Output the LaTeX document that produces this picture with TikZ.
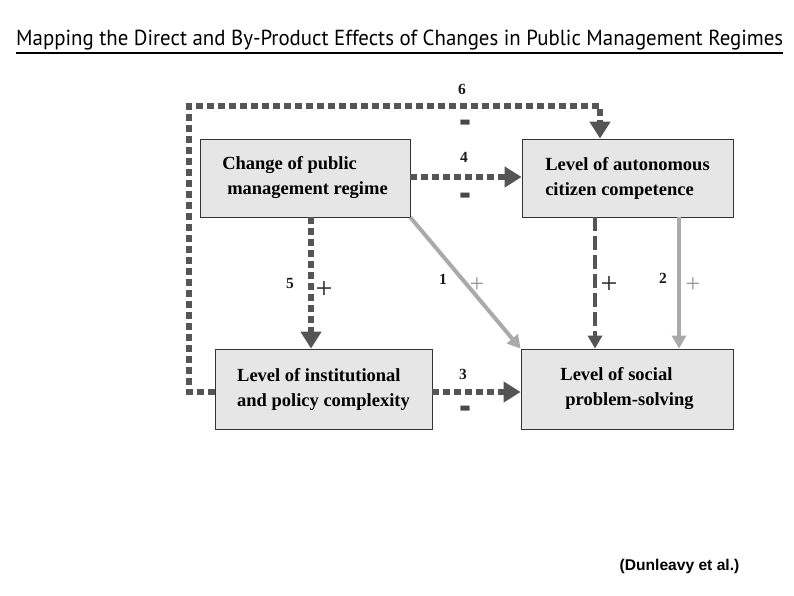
\documentclass[tikz,border=0pt]{standalone}
\usepackage{fontspec}
\usepackage{graphicx}
\setmainfont{Liberation Serif}
\newfontfamily\titlefont{PT Sans}
\newfontfamily\arialfont{Liberation Sans}
\usetikzlibrary{arrows.meta,calc}
\definecolor{dk}{HTML}{555555}
\definecolor{lg}{HTML}{AAAAAA}
\definecolor{boxfill}{HTML}{E6E6E6}
\definecolor{boxline}{HTML}{333333}
\begin{document}
\begin{tikzpicture}[x=1pt,y=-1pt,
  box/.style={draw=boxline,line width=0.8pt,fill=boxfill,align=left,inner sep=0pt,
    font=\fontsize{18.5}{25}\selectfont\bfseries},
  dotarrow/.style={draw=dk,line width=6pt,dash pattern=on 7pt off 4pt,
    -{Triangle[length=17pt,width=20pt]}},
  dasharrow/.style={draw=dk,line width=4pt,dash pattern=on 14pt off 5pt,
    -{Triangle[length=13pt,width=14pt]}},
  grayarrow/.style={draw=lg,line width=4pt,-{Triangle[length=13pt,width=14pt]}},
  num/.style={font=\fontsize{15.5}{15.5}\selectfont\bfseries,inner sep=0pt,text=black!90},
  minus/.style={font=\arialfont\fontsize{15}{15}\selectfont\bfseries,inner sep=0pt,text=dk!85!black},
  plusdk/.style={font=\fontsize{30}{30}\selectfont,inner sep=0pt,text=black!85},
  pluslg/.style={font=\fontsize{26}{26}\selectfont,inner sep=0pt,text=lg!90!black}]
\useasboundingbox (0,0) rectangle (794,595);

% title and rule
\node[anchor=base west,inner sep=0pt] (title) at (16,45)
  {\resizebox{767pt}{15.5pt}{\titlefont Mapping the Direct and By-Product Effects of Changes in Public Management Regimes}};
\coordinate (r1) at (16,53);
\coordinate (r2) at (783,53);
\draw[line width=2.2pt] (r1) -- (r2);

% boxes
\node[box,minimum width=210pt,minimum height=78pt] (A) at (305,178)
  {Change of public\\\hspace*{5pt}management regime};
\node[box,minimum width=211pt,minimum height=78pt] (B) at (627.5,178)
  {Level of autonomous\\citizen competence};
\node[box,minimum width=217pt,minimum height=80pt] (C) at (323.5,389)
  {Level of institutional\\and policy complexity};
\node[box,minimum width=212pt,minimum height=80pt] (D) at (627,389)
  {Level of social\\\hspace*{5pt}problem-solving};

% connector 6
\coordinate (c6s) at ($(C.west)+(0,3)$);
\coordinate (c6a) at (189,392);
\coordinate (c6b) at (189,106);
\coordinate (c6c) at (600,106);
\draw[dotarrow] (c6s) -- (c6a) -- (c6b) -- (c6c) -- (c6c |- B.north);

% connector 4
\draw[dotarrow] ($(A.east)+(0,-1)$) -- ($(B.west)+(0,-1)$);

% connector 3
\draw[dotarrow] ($(C.east)+(0,3)$) -- ($(D.west)+(0,3)$);

% connector 5
\coordinate (c5) at ($(A.south)+(6,0)$);
\draw[dotarrow] (c5) -- (c5 |- C.north);

% connector 1
\draw[grayarrow] (A.south east) -- (D.north west);

% dashed connector
\coordinate (cd) at ($(B.south)+(-32.5,0)$);
\draw[dasharrow] (cd) -- (cd |- D.north);

% connector 2
\coordinate (c2) at ($(B.south)+(51.5,0)$);
\draw[grayarrow] (c2) -- (c2 |- D.north);

% labels
\node[num] (l6) at (462,89) {6};
\node[minus] (m6) at (465,127) {\scalebox{2.4}[2.8]{-}};
\node[num] (l4) at (464,157) {4};
\node[minus] (m4) at (465,200) {\scalebox{2.4}[2.8]{-}};
\node[num] (l5) at (290,283) {5};
\node[plusdk] (p5) at (324,290) {+};
\node[num] (l1) at (443,279) {1};
\node[pluslg] (p1) at (477,285) {+};
\node[plusdk] (pd) at (609,285) {+};
\node[num] (l2) at (663,278) {2};
\node[pluslg] (p2) at (693,285) {+};
\node[num] (l3) at (463,374) {3};
\node[minus] (m3) at (465,413) {\scalebox{2.4}[2.8]{-}};

% citation
\node[font=\arialfont\fontsize{15.6}{15.6}\selectfont\bfseries,inner sep=0pt] (cite) at (679.5,566) {(Dunleavy et al.)};
\end{tikzpicture}
\end{document}
